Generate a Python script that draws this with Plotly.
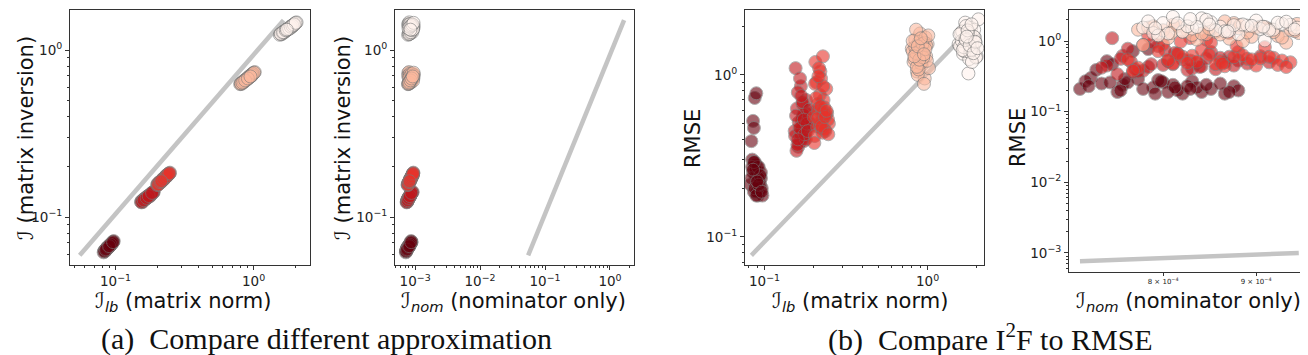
import plotly.graph_objects as go
import math

# ---------------- data ----------------
group_colors = ["#67000d", "#c0171c", "#e8322a", "#fcb99e", "#fff3ee"]

# I_lb (matrix norm)
lb0 = [0.082, 0.085, 0.088, 0.090, 0.086, 0.093, 0.095, 0.089, 0.084, 0.091, 0.087, 0.096, 0.083, 0.092, 0.089,
       0.094, 0.086, 0.090, 0.097, 0.088, 0.085, 0.093, 0.091, 0.087, 0.095, 0.089, 0.092, 0.084, 0.090, 0.088,
       0.083, 0.087, 0.091, 0.094, 0.086, 0.089, 0.092, 0.085, 0.090, 0.096]
lb1 = [0.153, 0.158, 0.163, 0.170, 0.175, 0.180, 0.187, 0.155, 0.161, 0.167, 0.172, 0.178, 0.183, 0.189, 0.157,
       0.165, 0.169, 0.174, 0.181, 0.154, 0.160, 0.166, 0.171, 0.177, 0.185, 0.159, 0.168, 0.173, 0.179, 0.162,
       0.156, 0.164, 0.171, 0.176, 0.182, 0.188, 0.160, 0.168, 0.174, 0.184]
lb2 = [0.200, 0.205, 0.210, 0.215, 0.220, 0.225, 0.230, 0.236, 0.242, 0.248, 0.203, 0.208, 0.213, 0.218, 0.223,
       0.228, 0.233, 0.239, 0.245, 0.202, 0.212, 0.217, 0.222, 0.227, 0.232, 0.237, 0.207, 0.219, 0.226, 0.234,
       0.204, 0.211, 0.216, 0.221, 0.224, 0.229, 0.235, 0.240, 0.246, 0.214]
lb3 = [0.80, 0.82, 0.84, 0.86, 0.88, 0.90, 0.92, 0.94, 0.96, 0.98, 1.00, 1.02, 0.81, 0.83, 0.85,
       0.87, 0.89, 0.91, 0.93, 0.95, 0.97, 0.99, 0.84, 0.88, 0.92, 0.96, 0.86, 0.90, 0.94, 0.98,
       0.81, 0.85, 0.89, 0.93, 0.97, 1.01, 0.83, 0.87, 0.91, 0.95]
lb4 = [1.55, 1.60, 1.65, 1.70, 1.75, 1.80, 1.85, 1.90, 1.95, 2.00, 2.05, 1.58, 1.63, 1.68, 1.73,
       1.78, 1.83, 1.88, 1.93, 1.98, 1.62, 1.72, 1.82, 1.92, 1.67, 1.77, 1.87, 1.97, 1.70, 1.85,
       1.57, 1.64, 1.71, 1.76, 1.81, 1.86, 1.91, 1.96, 2.02, 1.74]

# I (matrix inversion)
inv0 = [0.0615, 0.0640, 0.0655, 0.0665, 0.0648, 0.0690, 0.0705, 0.0668, 0.0625, 0.0680, 0.0650, 0.0712, 0.0630,
        0.0688, 0.0660, 0.0695, 0.0642, 0.0672, 0.0718, 0.0662, 0.0633, 0.0685, 0.0675, 0.0658, 0.0700, 0.0664,
        0.0682, 0.0630, 0.0668, 0.0652, 0.0622, 0.0655, 0.0678, 0.0698, 0.0645, 0.0662, 0.0684, 0.0638, 0.0670,
        0.0708]
inv1 = [0.1235, 0.1250, 0.1290, 0.1310, 0.1345, 0.1360, 0.1400, 0.1250, 0.1265, 0.1305, 0.1325, 0.1345, 0.1390,
        0.1415, 0.1230, 0.1300, 0.1320, 0.1330, 0.1375, 0.1225, 0.1280, 0.1285, 0.1335, 0.1330, 0.1405, 0.1260,
        0.1295, 0.1340, 0.1370, 0.1275, 0.1240, 0.1288, 0.1318, 0.1340, 0.1372, 0.1408, 0.1262, 0.1302, 0.1336,
        0.1395]
inv2 = [0.1560, 0.1575, 0.1625, 0.1640, 0.1690, 0.1700, 0.1740, 0.1770, 0.1820, 0.1845, 0.1590, 0.1600, 0.1615,
        0.1665, 0.1675, 0.1735, 0.1745, 0.1790, 0.1815, 0.1555, 0.1635, 0.1650, 0.1695, 0.1705, 0.1760, 0.1765,
        0.1615, 0.1680, 0.1720, 0.1780, 0.1570, 0.1620, 0.1655, 0.1685, 0.1695, 0.1728, 0.1758, 0.1800, 0.1830,
        0.1640]
inv3 = [0.625, 0.628, 0.645, 0.650, 0.665, 0.672, 0.690, 0.692, 0.710, 0.715, 0.730, 0.738, 0.632, 0.640, 0.642,
        0.662, 0.668, 0.678, 0.684, 0.702, 0.705, 0.722, 0.650, 0.660, 0.682, 0.698, 0.655, 0.680, 0.700, 0.720,
        0.630, 0.648, 0.664, 0.688, 0.708, 0.732, 0.638, 0.658, 0.676, 0.695]
inv4 = [1.235, 1.245, 1.285, 1.295, 1.330, 1.345, 1.365, 1.395, 1.410, 1.440, 1.465, 1.255, 1.260, 1.300, 1.310,
        1.330, 1.370, 1.375, 1.415, 1.425, 1.275, 1.320, 1.350, 1.390, 1.280, 1.340, 1.385, 1.430, 1.305, 1.355,
        1.250, 1.280, 1.315, 1.335, 1.345, 1.380, 1.400, 1.420, 1.455, 1.325]

# I_nom (nominator only), in units of 1e-4
nom0 = [7.20, 7.45, 7.60, 7.90, 7.50, 8.40, 8.75, 8.00, 7.30, 8.20, 7.70, 8.80, 7.35, 8.30, 7.85,
        8.50, 7.55, 8.10, 8.65, 7.95, 7.40, 8.35, 8.15, 7.75, 8.60, 8.05, 8.25, 7.25, 7.80, 7.65,
        7.28, 7.58, 7.98, 8.45, 7.62, 7.92, 8.28, 7.48, 8.12, 8.70]
nom1 = [7.45, 7.60, 7.80, 8.05, 8.30, 8.50, 8.90, 7.50, 7.70, 7.95, 8.20, 8.40, 8.70, 9.15, 7.55,
        7.90, 8.10, 8.25, 8.60, 7.40, 7.65, 7.85, 8.15, 8.35, 8.80, 7.75, 8.00, 8.45, 8.55, 7.68,
        7.58, 7.88, 8.12, 8.38, 8.65, 9.05, 7.72, 8.02, 8.28, 8.75]
nom2 = [7.65, 7.85, 8.10, 8.30, 8.45, 8.60, 8.80, 9.00, 9.20, 9.40, 7.75, 8.00, 8.20, 8.40, 8.55,
        8.70, 8.90, 9.10, 9.30, 7.70, 8.15, 8.35, 8.50, 8.65, 8.85, 9.05, 7.95, 8.25, 8.75, 9.25,
        7.80, 8.05, 8.28, 8.48, 8.62, 8.78, 8.95, 9.15, 9.35, 8.18]
nom3 = [7.75, 7.95, 8.15, 8.35, 8.55, 8.75, 8.95, 9.15, 9.35, 9.50, 7.85, 8.05, 8.25, 8.45, 8.65,
        8.85, 9.05, 9.25, 9.45, 7.80, 8.10, 8.30, 8.50, 8.70, 8.90, 9.10, 9.30, 8.00, 8.40, 8.80,
        7.90, 8.20, 8.60, 9.00, 9.40, 9.48, 8.08, 8.48, 8.82, 9.20]
nom4 = [7.80, 8.00, 8.20, 8.40, 8.60, 8.80, 9.00, 9.20, 9.40, 7.90, 8.10, 8.30, 8.50, 8.70, 8.90,
        9.10, 9.30, 9.48, 7.85, 8.05, 8.25, 8.45, 8.65, 8.85, 9.05, 9.25, 7.95, 8.35, 8.75, 9.15,
        8.15, 8.55, 8.95, 9.35, 7.92, 8.28, 8.68, 9.08, 9.45, 8.48]

# RMSE
rmse0 = [0.21, 0.52, 0.24, 0.22, 0.47, 0.19, 0.23, 0.26, 0.30, 0.18, 0.72, 0.20, 0.39, 0.27, 0.77,
         0.21, 0.19, 0.24, 0.18, 0.28, 0.25, 0.22, 0.20, 0.29, 0.25, 0.19, 0.23, 0.27, 0.21, 0.26,
         0.23, 0.20, 0.27, 0.24, 0.29, 0.18, 0.21, 0.26, 0.22, 0.19]
rmse1 = [0.45, 0.62, 0.38, 0.52, 0.41, 0.70, 0.48, 1.10, 0.36, 0.85, 0.55, 0.44, 0.60, 0.50, 0.34,
         0.95, 0.47, 0.39, 0.58, 0.42, 0.78, 0.43, 0.66, 0.49, 0.53, 0.37, 0.46, 0.57, 0.40, 0.51,
         0.56, 0.47, 0.68, 0.43, 0.50, 0.61, 0.40, 0.74, 0.53, 0.45]
rmse2 = [0.55, 1.20, 0.48, 0.62, 1.05, 0.52, 0.70, 0.45, 0.58, 0.50, 0.42, 0.90, 0.60, 0.75, 0.47,
         1.30, 0.56, 0.82, 0.53, 0.38, 0.66, 0.51, 0.95, 0.44, 0.63, 0.57, 0.72, 0.49, 0.59, 0.46,
         0.88, 0.54, 1.10, 0.64, 0.48, 0.85, 0.55, 0.60, 0.43, 0.98]
rmse3 = [1.45, 1.20, 1.65, 1.05, 1.35, 1.80, 1.15, 1.50, 0.95, 1.30, 1.55, 1.10, 1.40, 1.25, 1.90,
         1.00, 1.60, 1.18, 1.38, 0.88, 1.70, 1.22, 1.48, 1.08, 1.32, 1.58, 1.12, 1.42, 1.28, 1.52,
         1.62, 1.36, 1.24, 1.55, 1.44, 1.75, 1.30, 1.50, 1.68, 1.34]
rmse4 = [1.55, 1.80, 1.35, 2.10, 1.60, 1.25, 1.95, 1.45, 1.70, 1.30, 2.20, 1.50, 1.85, 1.40, 1.65,
         1.02, 1.75, 1.55, 1.90, 1.28, 1.62, 2.00, 1.38, 1.72, 1.48, 1.82, 1.20, 1.58, 1.68, 1.42,
         1.78, 1.42, 1.64, 1.88, 1.52, 2.05, 1.36, 1.60, 1.46, 1.72]

# reference (diagonal) lines
ref_ab_x = [0.055, 1.65]
ref_ab_y = [0.059, 1.51]
ref_c_x = [0.083, 1.9]
ref_c_y = [0.077, 2.0]
ref_d_x = [7.2e-4, 9.5e-4]
ref_d_y = [7.6e-4, 1.0e-3]

lb = [lb0, lb1, lb2, lb3, lb4]
inv = [inv0, inv1, inv2, inv3, inv4]
nom = [[v * 1e-4 for v in g] for g in [nom0, nom1, nom2, nom3, nom4]]
rmse = [rmse0, rmse1, rmse2, rmse3, rmse4]

# ---------------- figure ----------------
W, H = 1308, 355
fig = go.Figure()

def px_x(p):
    return p / W

def px_y(p):
    return 1 - p / H

panels = [
    dict(xd=(62, 302), yd=(2, 257), xr=(-1.330, 0.409), yr=(-1.287, 0.24)),
    dict(xd=(387, 626), yd=(2, 257), xr=(-3.31, 0.37), yr=(-1.287, 0.24)),
    dict(xd=(737, 976), yd=(2, 257), xr=(-1.12, 0.346), yr=(-1.173, 0.40)),
    dict(xd=(1061, 1302), yd=(2, 264), xr=(-3.1487, -3.0161), yr=(-3.27, 0.44)),
]

pairs = [(lb, inv), (nom, inv), (lb, rmse), (nom, rmse)]
refs = [(ref_ab_x, ref_ab_y), (ref_ab_x, ref_ab_y), (ref_c_x, ref_c_y), (ref_d_x, ref_d_y)]

def sup_label(e):
    s = str(e).replace("-", "\u2212")
    return "10<sup>" + s + "</sup>"

def minor_vals(lo, hi):
    vals = []
    for d in range(math.floor(lo) - 1, math.ceil(hi) + 1):
        for k in range(2, 10):
            v = k * 10 ** d
            if lo <= math.log10(v) <= hi:
                vals.append(v)
    return vals

def major_vals(lo, hi):
    return [e for e in range(math.ceil(lo), math.floor(hi) + 1)]

axis_common = dict(
    type="log", showgrid=False, zeroline=False, showline=True, mirror=True,
    linecolor="#333333", linewidth=1, ticks="outside", ticklen=4, tickwidth=1,
    tickcolor="#333333", tickfont=dict(family="DejaVu Sans", size=13.5, color="#222222"),
)

for i, p in enumerate(panels):
    xa = "xaxis" if i == 0 else f"xaxis{i+1}"
    ya = "yaxis" if i == 0 else f"yaxis{i+1}"
    xref = "x" if i == 0 else f"x{i+1}"
    yref = "y" if i == 0 else f"y{i+1}"

    xs, ys = pairs[i]
    rx, ry = refs[i]
    fig.add_trace(go.Scatter(x=rx, y=ry, mode="lines", xaxis=xref, yaxis=yref,
                             line=dict(color="#c4c4c4", width=4.5), hoverinfo="skip"))
    for g in range(5):
        fig.add_trace(go.Scatter(
            x=xs[g], y=ys[g], mode="markers", xaxis=xref, yaxis=yref,
            marker=dict(size=13, color=group_colors[g], opacity=0.6,
                        line=dict(color="#7a7a7a", width=1))))

    if i == 3:
        xt = dict(tickvals=[8e-4, 9e-4],
                  ticktext=["8 \u00d7 10<sup>\u22124</sup>", "9 \u00d7 10<sup>\u22124</sup>"],
                  tickfont=dict(family="DejaVu Sans", size=7, color="#222222"),
                  ticklen=3)
        xminor = dict(tickvals=[])
    else:
        mv = major_vals(*p["xr"])
        xt = dict(tickvals=[10 ** e for e in mv], ticktext=[sup_label(e) for e in mv])
        xminor = dict(tickvals=minor_vals(*p["xr"]), ticks="outside", ticklen=2,
                      tickcolor="#333333", tickwidth=1, showgrid=False)
    mvy = major_vals(*p["yr"])
    yt = dict(tickvals=[10 ** e for e in mvy], ticktext=[sup_label(e) for e in mvy])
    yminor = dict(tickvals=minor_vals(*p["yr"]), ticks="outside", ticklen=2,
                  tickcolor="#333333", tickwidth=1, showgrid=False)

    xcfg = dict(axis_common)
    xcfg.update(xt)
    xcfg.update(dict(domain=[px_x(p["xd"][0]), px_x(p["xd"][1])], range=list(p["xr"]),
                     anchor=yref, minor=xminor))
    ycfg = dict(axis_common)
    ycfg.update(yt)
    ycfg.update(dict(domain=[px_y(p["yd"][1]), px_y(p["yd"][0])], range=list(p["yr"]),
                     anchor=xref, minor=yminor))
    fig.layout[xa] = xcfg
    fig.layout[ya] = ycfg

title_font = dict(family="DejaVu Sans", size=21, color="#111111")
SI = "\u2110"
annots = [
    (18, 130, -90, SI + " (matrix inversion)"),
    (335, 130, -90, SI + " (matrix inversion)"),
    (685, 130, -90, "RMSE"),
    (1010, 130, -90, "RMSE"),
    (175, 294, 0, SI + "<sub><i>lb</i></sub> (matrix norm)"),
    (506, 294, 0, SI + "<sub><i>nom</i></sub> (nominator only)"),
    (852, 294, 0, SI + "<sub><i>lb</i></sub> (matrix norm)"),
    (1180, 294, 0, SI + "<sub><i>nom</i></sub> (nominator only)"),
]
for (x, y, ang, txt) in annots:
    fig.add_annotation(x=px_x(x), y=px_y(y), xref="paper", yref="paper", text=txt,
                       textangle=ang, showarrow=False, font=title_font,
                       xanchor="center", yanchor="middle")

cap_font = dict(family="Liberation Serif", size=30, color="#111111")
fig.add_annotation(x=px_x(318), y=px_y(331), xref="paper", yref="paper",
                   text="(a)\u2002Compare different approximation", showarrow=False,
                   font=cap_font, xanchor="center", yanchor="middle")
fig.add_annotation(x=px_x(983), y=px_y(329), xref="paper", yref="paper",
                   text="(b)\u2002Compare I<sup>2</sup>F to RMSE", showarrow=False,
                   font=cap_font, xanchor="center", yanchor="middle")

fig.update_layout(width=W, height=H, margin=dict(l=0, r=0, t=0, b=0),
                  paper_bgcolor="white", plot_bgcolor="white", showlegend=False)

fig.write_html("out.html")
